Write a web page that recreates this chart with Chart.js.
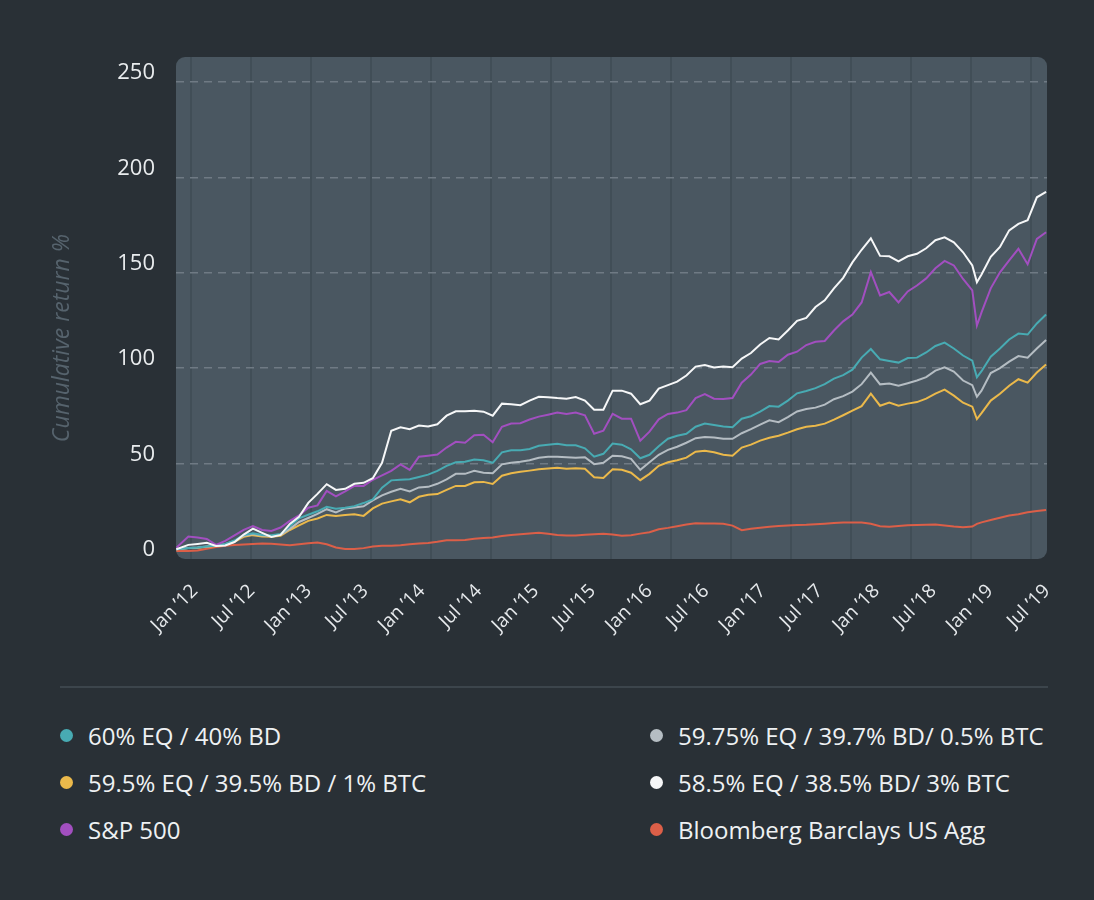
<!DOCTYPE html>
<html>
<head>
<meta charset="utf-8">
<script src="https://cdn.jsdelivr.net/npm/chart.js@4.4.1/dist/chart.umd.min.js"></script>
<style>
  body { margin: 0; background: #293036; font-family: 'Open Sans', sans-serif; }
  #wrap { position: relative; width: 1094px; height: 680px; }
  #rule { position: absolute; left: 60px; top: 686px; width: 988px; height: 2px; background: #3c454c; }
  #legend { position: absolute; left: 60px; top: 712px; width: 1000px; display: grid;
            grid-template-columns: 590px 410px; grid-template-rows: repeat(3, 47px); grid-auto-flow: column; }
  .item { display: flex; align-items: center; color: #eef1f3; font-size: 24px; }
  .dot { width: 13px; height: 13px; border-radius: 50%; margin-right: 15px; flex: none; }
</style>
</head>
<body>
<div id="wrap"><canvas id="chart"></canvas></div>
<div id="rule"></div>
<div id="legend"></div>
<script>
// months since Jan 2012
const months = [-4.3, -3, -2, -1,
  0, 1, 2, 3, 4, 5, 6, 7, 8, 9,
  10, 11, 12, 13, 14, 15, 16, 17, 18, 19,
  20, 21, 22, 23, 24, 25, 26, 27, 28, 29,
  30, 31, 32, 33, 34, 35, 36, 37, 38, 39,
  40, 41, 42, 43, 44, 45, 46, 47, 48, 49,
  50, 51, 52, 53, 54, 55, 56, 57, 58, 59,
  60, 61, 62, 63, 64, 65, 66, 67, 68, 69,
  70, 71, 72, 73, 74, 75, 76, 77, 78, 79,
  80, 81, 82, 82.5, 83, 84, 85, 86, 87, 88, 89, 90];

const tickLabels = ['Jan ’12', 'Jul ’12', 'Jan ’13', 'Jul ’13', 'Jan ’14', 'Jul ’14', 'Jan ’15', 'Jul ’15',
  'Jan ’16', 'Jul ’16', 'Jan ’17', 'Jul ’17', 'Jan ’18', 'Jul ’18', 'Jan ’19', 'Jul ’19'];

const eq60 = [5.1, 5.8, 6.0, 6.6,
  7.1, 7.9, 9.7, 12.6, 13.5, 12.6, 12.4, 13.1, 17.1, 21.3,
  23.2, 25.0, 27.3, 26.3, 26.9, 27.7, 29.3, 31.2, 37.4, 41.2,
  41.5, 41.8, 43.0, 44.2, 46.2, 48.8, 50.7, 50.9, 52.1, 51.7,
  50.4, 55.9, 57.0, 57.0, 57.6, 59.3, 59.9, 60.4, 59.6, 59.6,
  58.0, 53.6, 55.1, 60.5, 59.9, 57.5, 52.8, 54.6, 59.1, 63.0,
  64.6, 65.6, 69.3, 71.0, 70.2, 69.4, 69.0, 73.5, 74.8, 77.2,
  80.1, 79.8, 83.0, 86.8, 88.0, 89.5, 91.6, 94.5, 96.3, 99.2,
  105.5, 110.0, 104.6, 103.7, 102.9, 105.3, 105.5, 108.2, 111.6, 113.4,
  110.3, 106.6, 103.9, 95.2, 98.4, 106.0, 110.3, 115.0, 118.1, 117.6, 123.4, 128.1];

const btc1 = [5.1, 5.7, 5.9, 6.4,
  6.8, 7.5, 9.0, 11.6, 12.5, 11.8, 11.6, 12.2, 15.2, 17.6,
  20.0, 21.2, 23.1, 22.5, 23.1, 23.4, 22.6, 26.5, 29.0, 30.2,
  31.3, 29.7, 32.6, 33.6, 34.0, 36.2, 38.3, 38.3, 40.2, 40.4,
  39.3, 43.6, 44.9, 45.7, 46.3, 47.0, 47.4, 47.8, 47.3, 47.5,
  47.3, 42.8, 42.5, 47.0, 46.7, 45.2, 41.3, 44.6, 48.8, 50.7,
  51.7, 53.1, 56.2, 56.7, 55.9, 54.6, 54.1, 58.4, 59.9, 62.0,
  63.5, 64.6, 66.2, 68.0, 69.3, 69.8, 70.9, 73.0, 75.3, 77.7,
  80.1, 86.6, 80.3, 81.9, 80.3, 81.4, 82.2, 84.0, 86.6, 88.7,
  85.6, 81.9, 79.8, 73.3, 76.4, 83.0, 86.6, 90.8, 94.2, 92.4, 97.7, 101.9];

const sp500 = [5.9, 11.8, 11.3, 10.5,
  7.4, 9.5, 12.4, 15.3, 17.2, 15.2, 14.7, 16.5, 20.0, 22.8,
  26.9, 28.1, 35.7, 32.8, 35.4, 38.3, 38.3, 41.5, 43.8, 46.2,
  49.6, 46.7, 53.6, 54.1, 54.7, 58.4, 61.4, 60.9, 64.8, 65.1,
  61.2, 69.3, 71.0, 71.1, 73.1, 74.6, 75.6, 76.7, 76.0, 76.7,
  75.3, 65.6, 67.2, 76.1, 73.5, 73.5, 62.0, 66.7, 73.2, 76.0,
  76.7, 78.0, 84.3, 86.4, 84.0, 83.8, 84.3, 92.4, 96.6, 102.2,
  103.7, 103.2, 107.0, 108.6, 112.1, 113.8, 114.2, 119.7, 124.5, 128.1,
  134.4, 150.3, 138.1, 139.9, 134.4, 140.2, 143.3, 147.0, 152.3, 156.2,
  153.8, 146.7, 140.7, 122.3, 129.2, 141.8, 150.2, 156.5, 162.5, 154.4, 167.7, 171.2];

const btc05 = [5.1, 5.8, 6.0, 6.6,
  7.0, 7.7, 9.4, 12.2, 13.1, 12.3, 12.1, 12.7, 15.8, 19.4,
  21.5, 23.6, 26.1, 24.4, 26.5, 27.0, 27.6, 30.7, 33.3, 35.2,
  36.8, 35.4, 37.5, 37.8, 39.4, 41.7, 44.6, 44.6, 46.2, 45.2,
  44.9, 49.6, 50.4, 50.9, 51.7, 53.0, 53.6, 53.6, 53.3, 53.0,
  53.3, 49.7, 50.4, 54.1, 53.8, 52.5, 46.7, 50.7, 54.6, 57.2,
  58.8, 60.9, 63.3, 63.9, 63.6, 63.0, 63.0, 65.9, 68.0, 70.4,
  72.7, 71.7, 74.3, 77.3, 78.6, 79.3, 80.9, 83.7, 85.3, 87.7,
  91.6, 97.7, 91.5, 91.9, 90.8, 92.1, 93.5, 95.3, 98.7, 100.4,
  98.2, 93.5, 91.1, 85.0, 88.2, 97.4, 100.0, 103.4, 106.3, 105.5, 110.3, 114.7];

const btc3 = [5.1, 7.4, 7.9, 8.5,
  6.8, 7.1, 8.9, 12.8, 15.9, 13.7, 11.6, 12.6, 18.4, 22.1,
  29.4, 34.1, 39.2, 36.2, 36.8, 39.4, 39.9, 42.3, 50.4, 67.2,
  69.0, 68.0, 69.9, 69.4, 70.6, 75.1, 77.4, 77.4, 77.7, 77.2,
  75.1, 81.4, 81.1, 80.6, 83.0, 85.0, 84.8, 84.3, 84.0, 84.8,
  83.0, 78.2, 78.2, 88.2, 88.2, 86.6, 81.1, 83.0, 89.3, 91.1,
  92.9, 96.1, 100.8, 101.6, 100.3, 100.8, 100.5, 105.0, 107.9, 112.4,
  115.8, 115.0, 119.7, 124.8, 126.3, 132.0, 135.5, 141.8, 147.3, 155.4,
  162.0, 168.0, 158.8, 158.6, 155.9, 158.6, 159.9, 162.8, 167.0, 168.5,
  165.9, 160.7, 153.8, 145.0, 149.1, 158.3, 163.5, 172.2, 175.6, 177.5, 189.5, 192.3];

const usAgg = [4.2, 4.2, 4.5, 5.4,
  6.3, 6.9, 7.3, 7.6, 7.8, 8.1, 8.0, 7.6, 7.2, 7.7,
  8.3, 8.6, 7.7, 6.0, 5.3, 5.2, 5.7, 6.6, 6.9, 7.0,
  7.2, 7.7, 8.1, 8.4, 9.0, 9.8, 9.8, 10.0, 10.6, 11.0,
  11.3, 12.0, 12.6, 13.0, 13.4, 13.8, 13.2, 12.6, 12.3, 12.3,
  12.7, 13.0, 13.2, 12.8, 12.2, 12.5, 13.3, 14.0, 15.6, 16.3,
  17.2, 18.1, 18.7, 18.6, 18.6, 18.5, 17.5, 15.1, 15.8, 16.4,
  16.9, 17.3, 17.6, 17.8, 17.9, 18.2, 18.5, 18.9, 19.1, 19.1,
  19.1, 18.5, 17.2, 16.9, 17.3, 17.7, 17.8, 18.0, 18.1, 17.6,
  17.0, 16.6, 17.0, 18.4, 19.2, 20.4, 21.6, 22.8, 23.5, 24.5, 25.2, 25.7];

// rounded panel behind the plot
const plotBg = {
  id: 'plotBg',
  beforeDraw(chart) {
    const { ctx, chartArea: a } = chart;
    ctx.save();
    ctx.fillStyle = '#4a5761';
    ctx.beginPath();
    ctx.roundRect(a.left, a.top, a.right - a.left, a.bottom - a.top, 9);
    ctx.fill();
    ctx.restore();
  }
};

// y title sits a bit below the middle in the original
const yTitle = {
  id: 'yTitle',
  afterDraw(chart) {
    const { ctx, chartArea: a } = chart;
    ctx.save();
    ctx.translate(a.left - 114, (a.top + a.bottom) / 2 + 30);
    ctx.rotate(-Math.PI / 2);
    ctx.textAlign = 'center';
    ctx.textBaseline = 'middle';
    ctx.font = 'italic 23px "Open Sans"';
    ctx.fillStyle = '#56636d';
    ctx.fillText('Cumulative return %', 0, 0);
    ctx.restore();
  }
};

const line = (label, data, color, order) => ({
  label, data, borderColor: color, backgroundColor: color,
  borderWidth: 2, pointRadius: 0, tension: 0, order, xAxisID: 'x'
});

const chart = new Chart(document.getElementById('chart'), {
  type: 'line',
  data: {
    labels: months,
    datasets: [
      line('60% EQ / 40% BD', eq60, '#48abb3', 2),
      line('59.5% EQ / 39.5% BD / 1% BTC', btc1, '#ebb94b', 4),
      line('S&P 500', sp500, '#a24fc0', 1),
      line('59.75% EQ / 39.7% BD/ 0.5% BTC', btc05, '#b5bdc3', 3),
      line('58.5% EQ / 38.5% BD/ 3% BTC', btc3, '#f6f7f8', 0),
      line('Bloomberg Barclays US Agg', usAgg, '#dc5f48', 5)
    ]
  },
  options: {
    responsive: true,
    maintainAspectRatio: false,
    animation: false,
    layout: { padding: { top: 57, right: 47, left: 0, bottom: 0 } },
    plugins: { legend: { display: false }, tooltip: { enabled: false } },
    scales: {
      // data axis
      x: { type: 'linear', min: -4.34, max: 90.1, display: false },
      // date labels, spaced a little wider than the data
      xl: {
        type: 'linear', position: 'bottom', min: -2, max: 90,
        grid: { display: false },
        border: { display: false },
        ticks: {
          stepSize: 6, includeBounds: false, autoSkip: false,
          minRotation: 45, maxRotation: 45, padding: 13,
          color: '#e6e9ec', font: { family: 'Open Sans', size: 19 },
          callback: v => tickLabels[v / 6]
        },
        afterFit: s => { s.height = 121; }
      },
      // vertical grid only, on its own half-year spacing
      xg: {
        type: 'linear', position: 'bottom', min: -1.5, max: 85.6,
        ticks: { display: false, stepSize: 6, includeBounds: false },
        grid: { color: 'rgba(30,38,44,0.18)', lineWidth: 2, drawTicks: false },
        border: { display: false },
        afterFit: s => { s.height = 0; }
      },
      y: {
        min: 0, max: 263,
        ticks: {
          stepSize: 50, includeBounds: false, padding: 21, labelOffset: -9,
          color: '#e9ecee', font: { family: 'Open Sans', size: 22 }
        },
        grid: {
          color: c => c.tick && c.tick.value === 0 ? 'rgba(0,0,0,0)' : '#6f7a84',
          lineWidth: 1.5, drawTicks: false
        },
        border: { display: false, dash: [8, 6] },
        afterFit: s => { s.width = 176; }
      }
    }
  },
  plugins: [plotBg, yTitle]
});

// html legend in two columns
const legend = document.getElementById('legend');
chart.data.datasets.forEach(ds => {
  const item = document.createElement('div');
  item.className = 'item';
  item.innerHTML = '<span class="dot" style="background:' + ds.borderColor + '"></span>' + ds.label.replace('&', '&amp;');
  legend.appendChild(item);
});
</script>
</body>
</html>
